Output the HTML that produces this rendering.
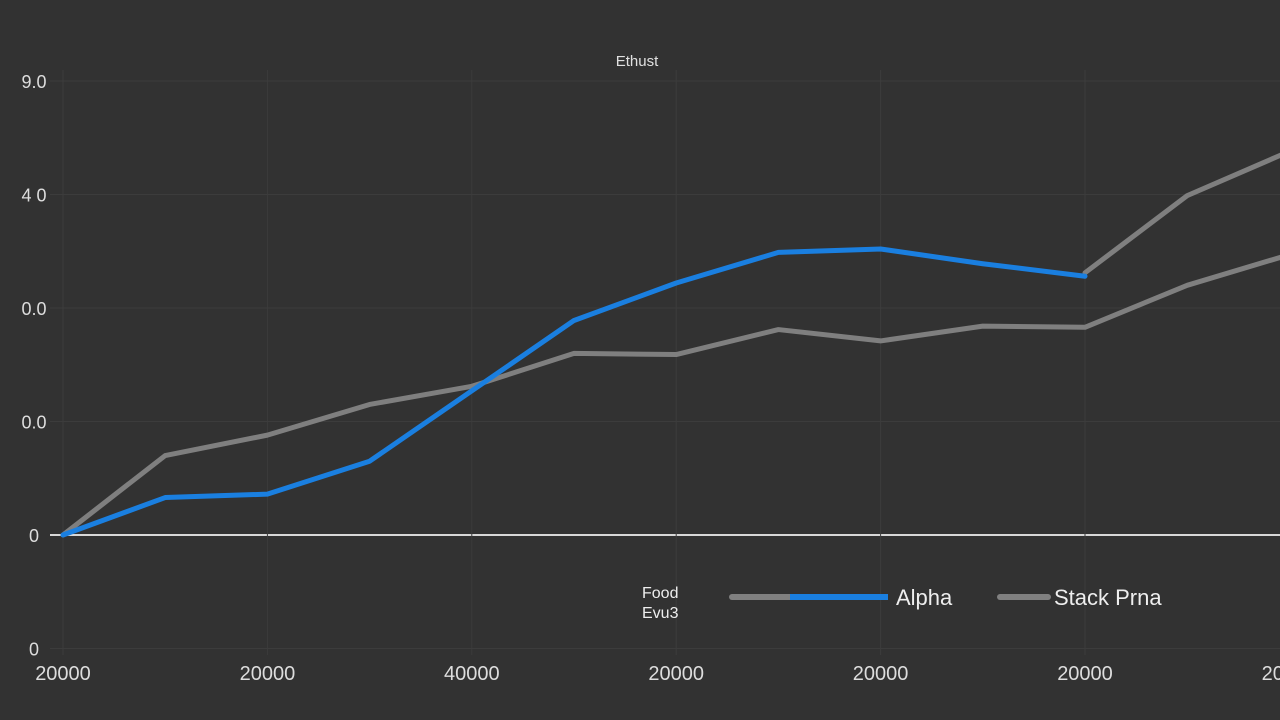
<!DOCTYPE html>
<html><head><meta charset="utf-8"><style>
html,body{margin:0;padding:0;background:#323232;width:1280px;height:720px;overflow:hidden}
text{font-family:"Liberation Sans",sans-serif}
</style></head><body>
<svg id="chart" width="1280" height="720" xmlns="http://www.w3.org/2000/svg">
<rect width="1280" height="720" fill="#323232"/>
<text x="637" y="66" fill="#e0e0e0" font-size="15" text-anchor="middle">Ethust</text>
<g id="grid"></g><g id="axes"></g><g id="series"></g>
<g>
<text x="642" y="598" fill="#eee" font-size="16">Food</text>
<text x="642" y="618" fill="#eee" font-size="16">Evu3</text>
<line x1="732" y1="597" x2="790" y2="597" stroke="#808080" stroke-width="6" stroke-linecap="round"/>
<line x1="790" y1="597" x2="888" y2="597" stroke="#1a7fe0" stroke-width="6"/>
<text x="896" y="605" fill="#eee" font-size="22">Alpha</text>
<line x1="1000" y1="597" x2="1048" y2="597" stroke="#808080" stroke-width="6" stroke-linecap="round"/>
<text x="1054" y="605" fill="#eee" font-size="22">Stack Prna</text>
</g>
</svg>
<script>
const xLabels=["20000","20000","40000","20000","20000","20000","20000"];
const yLabels=["0","0","0.0","0.0","4 0","9.0"];
const yTickVals=[-1,0,1,2,3,4];
const stockVals=[0,0.70,0.88,1.15,1.31,1.60,1.59,1.81,1.71,1.84,1.83,2.20,2.47];
const upperIdx=[10,11,12];
const upperVals=[2.31,2.99,3.38];
const alphaVals=[0,0.33,0.36,0.65,1.27,1.89,2.22,2.49,2.52,2.39,2.28];
const NS="http://www.w3.org/2000/svg";
const xs=i=>63+i*102.2;
const ys=v=>535-v*113.5;
function el(t,a,p){const e=document.createElementNS(NS,t);for(const k in a)e.setAttribute(k,a[k]);p.appendChild(e);return e;}
const grid=document.getElementById('grid'),axes=document.getElementById('axes'),ser=document.getElementById('series');
yTickVals.forEach((v,i)=>{
 const l=el('line',{x1:50,x2:1280,y1:ys(v),y2:ys(v),stroke:v===0?'#d8d8d8':'#3c3c3c','stroke-width':v===0?2:1},grid);
 
 
 const t=el('text',{x:34,y:ys(v)+7,fill:'#ddd','font-size':18,'text-anchor':'middle'},axes);
 t.textContent=yLabels[i];
 
 
});
xLabels.forEach((s,i)=>{
 const x=63+i*204.4;
 const l=el('line',{x1:x,x2:x,y1:70,y2:655,stroke:'#3c3c3c','stroke-width':1},grid);
 
 
 const t=el('text',{x:x,y:680,fill:'#ddd','font-size':20,'text-anchor':'middle'},axes);
 t.textContent=s;
 
 
});
function line(vals,idx,color,name){
 const d=vals.map((v,i)=>(i?'L':'M')+xs(idx?idx[i]:i)+','+ys(v)).join(' ');
 const p=el('path',{d:d,fill:'none',stroke:color,'stroke-width':5,'stroke-linejoin':'round','stroke-linecap':'round'},ser);
 
 
}
line(stockVals,null,'#7f7f7f','stock-price-line');
line(upperVals,upperIdx,'#7f7f7f','stock-price-upper-line');
line(alphaVals,null,'#1a7fe0','alpha-line');
</script>
</body></html>
